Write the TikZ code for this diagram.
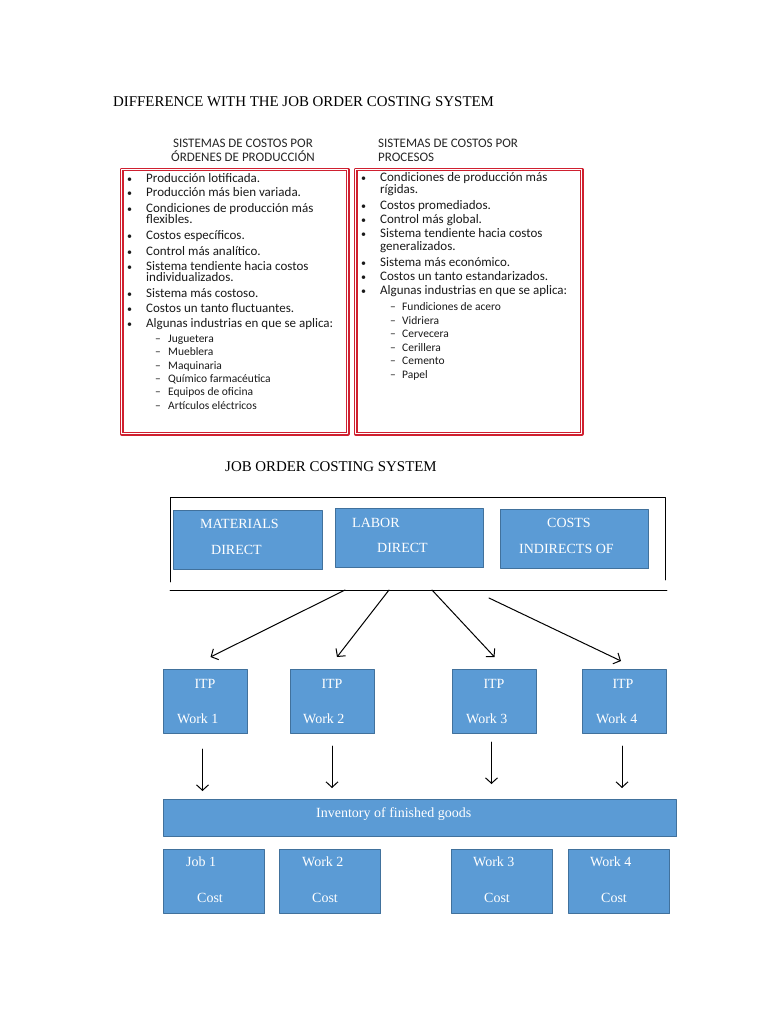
\documentclass[tikz,border=0pt]{standalone}
\usepackage{fontspec}
\setmainfont{Liberation Serif}
\newfontfamily\calibri{Carlito}
\usetikzlibrary{arrows.meta}
\definecolor{boxfill}{HTML}{5B9BD5}
\definecolor{boxedge}{HTML}{41719C}
\definecolor{redframe}{HTML}{CF2030}
\tikzset{
	bluebox/.style={draw=boxedge,fill=boxfill,line width=1pt,inner sep=0pt,anchor=north west},
	redbox/.style={draw=redframe,double=white,double distance=1pt,line width=1.4pt,inner sep=0pt,anchor=north west},
	titletext/.style={font=\fontsize{14.9}{16}\selectfont,anchor=base west,inner sep=0pt},
	whitetext/.style={text=white,font=\fontsize{14}{16}\selectfont,anchor=base west,inner sep=0pt},
	headtext/.style={text=black!85,font=\calibri\fontsize{13}{15}\selectfont,inner sep=0pt},
	itemtext/.style={text=black!90,font=\calibri\fontsize{13}{15}\selectfont,anchor=base west,inner sep=0pt},
	subtext/.style={text=black!90,font=\calibri\fontsize{11.5}{13}\selectfont,anchor=base west,inner sep=0pt}
}
\begin{document}
\begin{tikzpicture}
			[line cap=round,line join=round,>={Straight Barb[length=5.5pt,width=12pt]},x=1pt,y=-1pt]
			\useasboundingbox (0,0) rectangle (768,1024);
			\node[titletext] (title) at (113,107) {DIFFERENCE WITH THE JOB ORDER COSTING SYSTEM};
			% two tables
			\node[headtext,anchor=base] (headl1) at (243,147.5) {SISTEMAS DE COSTOS POR};
			\node[headtext,anchor=base] (headl2) at (243,162) {ÓRDENES DE PRODUCCIÓN};
			\node[headtext,anchor=base west] (headr1) at (378,147.5) {SISTEMAS DE COSTOS POR};
			\node[headtext,anchor=base west] (headr2) at (378,161.7) {PROCESOS};
			\node[redbox,minimum width=226.2pt,minimum height=264.2pt] (ordenes) at (120.9,168.9) {};
			\node[redbox,minimum width=226.2pt,minimum height=264.2pt] (procesos) at (354.9,168.9) {};
			\foreach \y/\t in {182.7/Producción lotificada.,196.7/Producción más bien variada.,212.3/Condiciones de producción más,240/Costos específicos.,255/Control más analítico.,270/Sistema tendiente hacia costos,297.3/Sistema más costoso.,312.7/Costos un tanto fluctuantes.,327.7/Algunas industrias en que se aplica:}{
				\node[itemtext,font=\calibri\fontsize{10}{12}\selectfont] at (127,\y) {•};
				\node[itemtext] at (146,\y) {\t};
			}
			\foreach \y/\t in {223.7/flexibles.,281.7/individualizados.}
				\node[itemtext] at (146,\y) {\t};
			\foreach \y/\t in {342/Juguetera,355.3/Mueblera,369/Maquinaria,382.3/Químico farmacéutica,395.7/Equipos de oficina,409.3/Artículos eléctricos}{
				\node[subtext] at (155,\y) {–};
				\node[subtext] at (168,\y) {\t};
			}
			\foreach \y/\t in {181.7/Condiciones de producción más,210/Costos promediados.,224/Control más global.,237.3/Sistema tendiente hacia costos,266.7/Sistema más económico.,280/Costos un tanto estandarizados.,294.3/Algunas industrias en que se aplica:}{
				\node[itemtext,font=\calibri\fontsize{10}{12}\selectfont] at (361,\y) {•};
				\node[itemtext] at (380,\y) {\t};
			}
			\foreach \y/\t in {193.3/rígidas.,250/generalizados.}
				\node[itemtext] at (380,\y) {\t};
			\foreach \y/\t in {310/Fundiciones de acero,324/Vidriera,337.3/Cervecera,351.3/Cerillera,364.7/Cemento,378/Papel}{
				\node[subtext] at (390,\y) {–};
				\node[subtext] at (402,\y) {\t};
			}
			% costing system
			\node[titletext] (subtitle) at (225,471) {JOB ORDER COSTING SYSTEM};
			\draw [line width=0.9pt] (170,582) -- (170,497) -- (665,497) -- (665,580);
			\draw [line width=0.9pt] (170,590) -- (667,590);
			\node[bluebox,minimum width=149pt,minimum height=59pt] (mat) at (173,510) {};
			\node[bluebox,minimum width=148pt,minimum height=59pt] (lab) at (335,508) {};
			\node[bluebox,minimum width=148pt,minimum height=59pt] (ind) at (500,509) {};
			\node[whitetext] at (200,528) {MATERIALS};
			\node[whitetext] at (211,554) {DIRECT};
			\node[whitetext] at (352,527) {LABOR};
			\node[whitetext] at (377,552) {DIRECT};
			\node[whitetext] at (547,527.5) {COSTS};
			\node[whitetext] at (519,553) {INDIRECTS OF};
			\foreach \n/\x in {1/163,2/290,3/452,4/582}
				\node[bluebox,minimum width=84pt,minimum height=64pt] (itp\n) at (\x,669) {};
			\foreach \n/\x/\w in {1/205/177,2/332/303,3/494/466,4/623/596}{
				\node[whitetext,anchor=base] at (\x,688) {ITP};
				\node[whitetext] at (\w,723) {Work \n};
			}
			\coordinate (s1) at (345,590);
			\coordinate (s2) at (389,590);
			\coordinate (s3) at (432,590);
			\coordinate (s4) at (489,598);
			\draw [line width=1pt,->] (s1) -- ([xshift=5pt,yshift=12pt]itp1.north);
			\draw [line width=1pt,->] (s2) -- ([xshift=4.5pt,yshift=12pt]itp2.north);
			\draw [line width=1pt,->] (s3) -- ([yshift=12pt]itp3.north);
			\draw [line width=1pt,->] (s4) -- ([xshift=-3.5pt,yshift=8pt]itp4.north);
			\node[bluebox,minimum width=513pt,minimum height=37pt] (inv) at (163,799) {};
			\node[whitetext] at (316,817) {Inventory of finished goods};
			\foreach \n/\dx/\ys/\ye in {1/-3/15/8,2/-0.5/12/11,3/-3/8/15,4/-2.5/12/11}{
				\coordinate (d\n) at (itp\n.south |- inv.north);
				\draw [line width=1pt,->] ([xshift=\dx pt,yshift=-\ys pt]itp\n.south) -- ([xshift=\dx pt,yshift=\ye pt]d\n);
			}
			\foreach \n/\x in {1/163,2/279,3/451,4/568}
				\node[bluebox,minimum width=101pt,minimum height=64pt] (cost\n) at (\x,849) {};
			\node[whitetext] at (186,866) {Job 1};
			\node[whitetext] at (302,866) {Work 2};
			\node[whitetext] at (473,866) {Work 3};
			\node[whitetext] at (590,866) {Work 4};
			\foreach \x in {197,312,484,601}
				\node[whitetext] at (\x,902) {Cost};
		\end{tikzpicture}
\end{document}
